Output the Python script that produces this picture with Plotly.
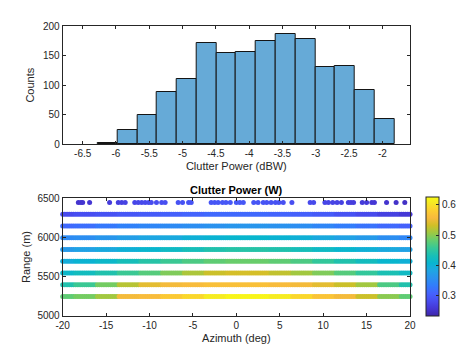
import numpy as np
import plotly.graph_objects as go

# ---------------- Histogram data ----------------
BIN_EDGES = [-6.275, -5.978, -5.681, -5.384, -5.087, -4.790, -4.493, -4.196,
             -3.899, -3.602, -3.305, -3.008, -2.711, -2.414, -2.117, -1.820]
COUNTS = [3, 24, 49, 88, 111, 171, 154, 156, 175, 187, 178, 130, 132, 92, 42]
HIST_XTICKS = [-6.5, -6, -5.5, -5, -4.5, -4, -3.5, -3, -2.5, -2]
HIST_YTICKS = [0, 50, 100, 150, 200]

# ---------------- Scatter data ----------------
ROW_RANGES = [5245, 5395, 5545, 5695, 5845, 5995, 6145, 6295]
KNOT_AZ = [-20, -17.5, -15, -12.5, -10, -7.5, -5, -2.5, 0, 2.5, 5, 7.5, 10, 12.5, 15, 17.5, 20]
ROW_POWER = [
    [0.48, 0.49, 0.51, 0.555, 0.56, 0.575, 0.59, 0.61, 0.62, 0.62, 0.61, 0.59, 0.57, 0.555, 0.53, 0.50, 0.48],
    [0.44, 0.46, 0.49, 0.52, 0.545, 0.555, 0.56, 0.565, 0.565, 0.565, 0.56, 0.555, 0.545, 0.53, 0.51, 0.47, 0.44],
    [0.415, 0.425, 0.44, 0.46, 0.475, 0.495, 0.515, 0.53, 0.535, 0.535, 0.525, 0.51, 0.495, 0.475, 0.455, 0.435, 0.42],
    [0.395, 0.405, 0.415, 0.43, 0.445, 0.46, 0.47, 0.48, 0.485, 0.485, 0.48, 0.47, 0.455, 0.44, 0.425, 0.41, 0.40],
    [0.37, 0.38, 0.39, 0.40, 0.41, 0.42, 0.43, 0.44, 0.445, 0.445, 0.44, 0.43, 0.42, 0.41, 0.40, 0.39, 0.38],
    [0.35, 0.355, 0.365, 0.375, 0.385, 0.39, 0.40, 0.405, 0.41, 0.41, 0.405, 0.40, 0.39, 0.38, 0.37, 0.355, 0.345],
    [0.315, 0.32, 0.33, 0.34, 0.345, 0.35, 0.355, 0.36, 0.365, 0.365, 0.36, 0.355, 0.345, 0.335, 0.325, 0.315, 0.305],
    [0.28, 0.285, 0.29, 0.295, 0.30, 0.305, 0.31, 0.315, 0.315, 0.315, 0.31, 0.305, 0.30, 0.29, 0.28, 0.27, 0.26],
]
TOP_RANGE = 6445
TOP_AZ = [-18.2, -17.9, -17.7, -16.9, -14.6, -13.6, -13.2, -12.8, -11.7, -11.3, -10.9, -10.5,
          -10.1, -9.8, -9.2, -8.6, -8.2, -6.7, -6.2, -5.5, -5.2, -2.9, -2.5, -2.1, -1.6, -1.2,
          -0.7, 0.0, 0.4, 0.8, 2.0, 2.5, 3.1, 3.5, 4.0, 4.5, 4.9, 5.4, 6.4, 8.5, 8.9, 10.2,
          10.6, 11.1, 11.6, 12.1, 12.9, 13.2, 13.5, 14.5, 15.0, 15.6, 15.9, 17.3, 18.4, 19.4]
TOP_POWER = [0.255, 0.255, 0.256, 0.258, 0.265, 0.268, 0.27, 0.272, 0.276, 0.277, 0.279, 0.28,
             0.281, 0.282, 0.284, 0.285, 0.286, 0.289, 0.29, 0.291, 0.291, 0.294, 0.294, 0.295, 0.295, 0.295,
             0.296, 0.296, 0.296, 0.295, 0.294, 0.293, 0.292, 0.291, 0.29, 0.289, 0.288, 0.287, 0.285, 0.28, 0.279, 0.276,
             0.275, 0.273, 0.272, 0.27, 0.268, 0.267, 0.266, 0.263, 0.262, 0.26, 0.259, 0.255, 0.252, 0.25]
SC_XTICKS = [-20, -15, -10, -5, 0, 5, 10, 15, 20]
SC_YTICKS = [5000, 5500, 6000, 6500]
CB_TICKS = [0.3, 0.4, 0.5, 0.6]
C_MIN, C_MAX = 0.234, 0.626

# MATLAB parula (sampled)
PARULA = [(0, 'rgb(62,38,168)'), (4, 'rgb(69,55,213)'), (8, 'rgb(72,77,240)'), (12, 'rgb(69,99,253)'),
          (16, 'rgb(50,124,252)'), (20, 'rgb(43,145,239)'), (24, 'rgb(32,165,227)'), (28, 'rgb(8,181,208)'),
          (32, 'rgb(25,191,182)'), (36, 'rgb(55,200,151)'), (40, 'rgb(100,205,111)'), (44, 'rgb(157,201,67)'),
          (48, 'rgb(209,191,39)'), (52, 'rgb(248,186,61)'), (56, 'rgb(252,207,48)'), (60, 'rgb(245,233,36)'),
          (63, 'rgb(249,251,21)')]
colorscale = [[i / 63, c] for i, c in PARULA]

W, H = 474, 355
def px_x(a, b):
    return [a / W, b / W]
def px_y(top, bottom):
    return [1 - bottom / H, 1 - top / H]

FONT = "Liberation Sans, Arial, Helvetica, sans-serif"
AX = "#262626"

fig = go.Figure()

# Histogram bars
edges = np.array(BIN_EDGES)
centers = (edges[:-1] + edges[1:]) / 2
widths = np.diff(edges)
fig.add_trace(go.Bar(x=centers, y=COUNTS, width=widths, xaxis="x", yaxis="y",
                     marker=dict(color="rgb(102,170,215)", line=dict(color="#151515", width=1)),
                     showlegend=False))

# Dense rows: each sample takes the value of its nearest knot
samples = np.arange(-20, 20.001, 0.25)
knots = np.array(KNOT_AZ)
nearest = np.abs(samples[:, None] - knots[None, :]).argmin(axis=1)
xs, ys, cs = [], [], []
for r, vals in zip(ROW_RANGES, ROW_POWER):
    vals = np.array(vals)
    xs.extend(samples.tolist())
    ys.extend([r] * len(samples))
    cs.extend(vals[nearest].tolist())
xs.extend(TOP_AZ)
ys.extend([TOP_RANGE] * len(TOP_AZ))
cs.extend(TOP_POWER)

fig.add_trace(go.Scatter(x=xs, y=ys, mode="markers", xaxis="x2", yaxis="y2", cliponaxis=False,
                         marker=dict(size=5, color=cs, colorscale=colorscale, cmin=C_MIN, cmax=C_MAX,
                                     line=dict(width=0),
                                     colorbar=dict(x=426 / W, xanchor="left", y=1 - 316 / H, yanchor="bottom",
                                                   len=(316 - 197.5) / H, lenmode="fraction", thickness=13,
                                                   outlinewidth=1, outlinecolor=AX, tickvals=CB_TICKS,
                                                   ticktext=[str(t) for t in CB_TICKS],
                                                   ticks="inside", ticklen=3, tickcolor=AX,
                                                   tickfont=dict(family=FONT, size=10, color=AX),
                                                   xpad=0, ypad=0)),
                         showlegend=False))

common = dict(showline=True, linecolor=AX, linewidth=1, mirror="ticks", ticks="inside", ticklen=3,
              tickcolor=AX, showgrid=False, zeroline=False, automargin=False,
              tickfont=dict(family=FONT, size=10, color=AX))

fig.update_layout(
    width=W, height=H, margin=dict(l=0, r=0, t=0, b=0, autoexpand=False),
    paper_bgcolor="white", plot_bgcolor="white", bargap=0,
    font=dict(family=FONT, color=AX),
    xaxis=dict(domain=px_x(62.7, 410), anchor="y", range=[-6.8, -1.585],
               tickvals=HIST_XTICKS, ticktext=[str(t) for t in HIST_XTICKS],
               title=dict(text="Clutter Power (dBW)", font=dict(size=11, family=FONT, color=AX), standoff=4),
               **common),
    yaxis=dict(domain=px_y(26, 144.3), anchor="x", range=[0, 200], tickvals=HIST_YTICKS,
               title=dict(text="Counts", font=dict(size=11, family=FONT, color=AX), standoff=6),
               **common),
    xaxis2=dict(domain=px_x(62.7, 410), anchor="y2", range=[-20, 20],
                tickvals=SC_XTICKS, ticktext=[str(t) for t in SC_XTICKS],
                title=dict(text="Azimuth (deg)", font=dict(size=11, family=FONT, color=AX), standoff=4),
                **common),
    yaxis2=dict(domain=px_y(198.3, 315.7), anchor="x2", range=[5000, 6500], tickvals=SC_YTICKS,
                title=dict(text="Range (m)", font=dict(size=11, family=FONT, color=AX), standoff=4),
                **common),
    annotations=[dict(text="<b>Clutter Power (W)</b>", x=(62.7 + 410) / 2 / W, y=1 - 190 / H,
                      xref="paper", yref="paper", showarrow=False, xanchor="center", yanchor="middle",
                      font=dict(family=FONT, size=11, color="black"))],
)

fig.write_html("out.html", config={"displayModeBar": False},
               post_script="document.body.style.margin='0px';")
